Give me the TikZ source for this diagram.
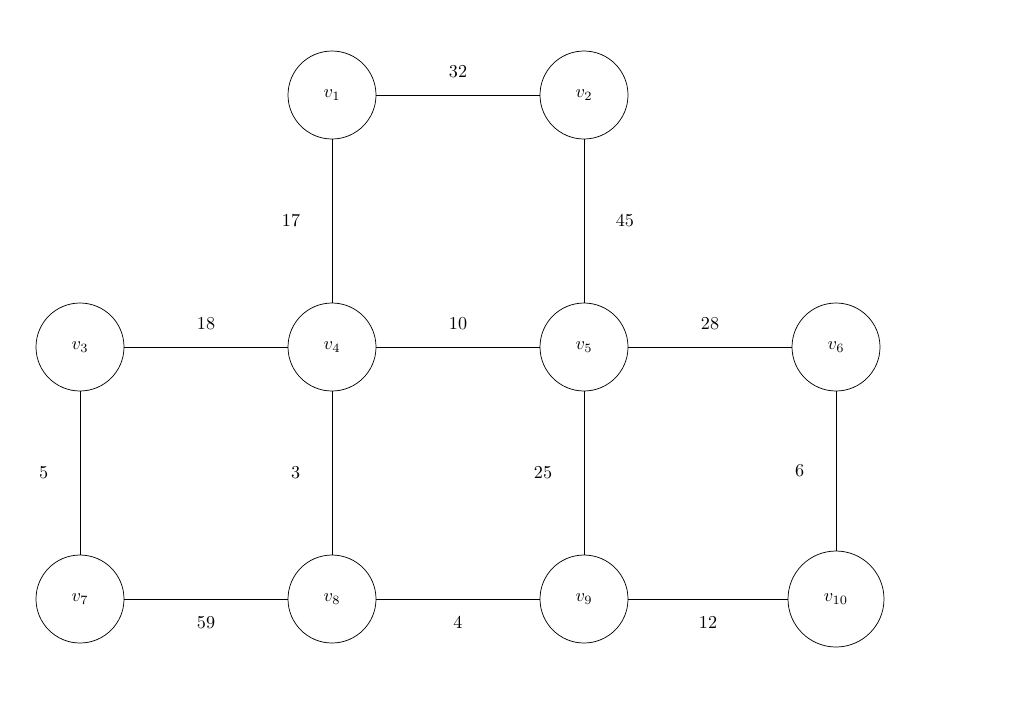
\documentclass[tikz,border=0pt]{standalone}
\begin{document}
\begin{tikzpicture}[x=0.55pt,y=-0.55pt,
  vert/.style={draw,circle,minimum size=48.4pt,inner sep=0pt},
  bigvert/.style={draw,circle,minimum size=52.8pt,inner sep=0pt},
  lab/.style={font=\normalsize}]
\useasboundingbox (0,0) rectangle (1034,718);
\node[vert] (v1) at (332,95) {$v_1$};
\node[vert] (v2) at (584,95) {$v_2$};
\node[vert] (v3) at (80,347) {$v_3$};
\node[vert] (v4) at (332,347) {$v_4$};
\node[vert] (v5) at (584,347) {$v_5$};
\node[vert] (v6) at (836,347) {$v_6$};
\node[vert] (v7) at (80,599) {$v_7$};
\node[vert] (v8) at (332,599) {$v_8$};
\node[vert] (v9) at (584,599) {$v_9$};
\node[bigvert] (v10) at (836,599) {$v_{10}$};
\draw (v1) -- node[above=6pt] {32} (v2);
\draw (v1) -- node[left=14pt] {17} (v4);
\draw (v2) -- node[right=14pt] {45} (v5);
\draw (v3) -- node[above=6pt] {18} (v4);
\draw (v4) -- node[above=6pt] {10} (v5);
\draw (v5) -- node[above=6pt] {28} (v6);
\draw (v3) -- node[left=14pt] {5} (v7);
\draw (v4) -- node[left=14pt] {3} (v8);
\draw (v5) -- node[left=14pt] {25} (v9);
\draw (v6) -- node[left=14pt] {6} (v10);
\draw (v7) -- node[below=6pt] {59} (v8);
\draw (v8) -- node[below=6pt] {4} (v9);
\draw (v9) -- node[below=6pt] {12} (v10);
\end{tikzpicture}
\end{document}
